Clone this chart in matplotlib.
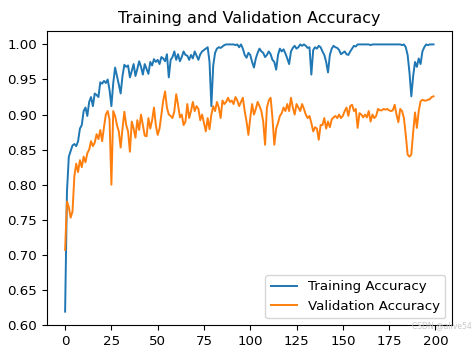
import matplotlib.pyplot as plt
import numpy as np

train_acc = [
    0.619, 0.790, 0.840, 0.848, 0.856, 0.858, 0.855, 0.862, 0.880, 0.885,
    0.905, 0.910, 0.898, 0.918, 0.925, 0.912, 0.930, 0.928, 0.925, 0.946,
    0.944, 0.948, 0.945, 0.950, 0.935, 0.912, 0.945, 0.967, 0.955, 0.943,
    0.930, 0.955, 0.971, 0.968, 0.970, 0.953, 0.962, 0.972, 0.955, 0.965,
    0.976, 0.968, 0.957, 0.972, 0.965, 0.958, 0.975, 0.970, 0.979, 0.975,
    0.978, 0.972, 0.982, 0.980, 0.976, 0.986, 0.953, 0.978, 0.982, 0.990,
    0.978, 0.986, 0.976, 0.982, 0.990, 0.985, 0.984, 0.978, 0.985, 0.980,
    0.990, 0.984, 0.978, 0.986, 0.990, 0.992, 0.994, 0.996, 0.975, 0.912,
    0.970, 0.988, 0.994, 0.996, 0.995, 0.997, 0.999, 1.000, 1.000, 1.000,
    1.000, 1.000, 0.999, 1.000, 0.996, 1.000, 0.994, 0.985, 0.981, 0.988,
    0.985, 0.975, 0.967, 0.980, 0.988, 0.994, 0.990, 0.988, 0.982, 0.985,
    0.990, 0.986, 0.978, 0.975, 0.964, 0.985, 0.994, 0.990, 0.993, 0.987,
    0.980, 0.972, 0.990, 0.995, 0.998, 0.994, 0.996, 1.000, 0.998, 1.000,
    0.998, 0.995, 0.996, 0.957, 0.992, 0.996, 0.994, 0.998, 0.996, 0.990,
    0.985, 0.975, 0.960, 0.985, 0.994, 0.998, 0.996, 0.995, 0.992, 0.986,
    0.988, 0.990, 0.986, 0.985, 0.990, 0.994, 0.998, 0.997, 1.000, 1.000,
    1.000, 1.000, 1.000, 1.000, 1.000, 0.999, 1.000, 1.000, 1.000, 1.000,
    1.000, 1.000, 1.000, 1.000, 1.000, 1.000, 1.000, 1.000, 1.000, 1.000,
    1.000, 1.000, 0.999, 1.000, 0.996, 0.985, 0.960, 0.926, 0.955, 0.975,
    0.968, 0.980, 0.972, 0.990, 0.996, 1.000, 0.999, 1.000, 1.000, 1.000,
]

val_acc = [
    0.707, 0.776, 0.768, 0.753, 0.762, 0.812, 0.830, 0.818, 0.835, 0.825,
    0.840, 0.832, 0.845, 0.850, 0.862, 0.855, 0.860, 0.872, 0.865, 0.878,
    0.862, 0.882, 0.900, 0.905, 0.893, 0.800, 0.905, 0.898, 0.885, 0.876,
    0.853, 0.880, 0.904, 0.885, 0.876, 0.847, 0.890, 0.880, 0.867, 0.892,
    0.878, 0.900, 0.885, 0.870, 0.869, 0.895, 0.880, 0.892, 0.910, 0.885,
    0.871, 0.880, 0.900, 0.920, 0.933, 0.910, 0.900, 0.898, 0.895, 0.905,
    0.929, 0.914, 0.896, 0.900, 0.885, 0.890, 0.915, 0.895, 0.905, 0.918,
    0.905, 0.912, 0.908, 0.892, 0.900, 0.888, 0.876, 0.895, 0.879, 0.900,
    0.912, 0.905, 0.918, 0.910, 0.895, 0.920, 0.915, 0.918, 0.924, 0.918,
    0.920, 0.915, 0.925, 0.920, 0.912, 0.918, 0.924, 0.905, 0.890, 0.871,
    0.895, 0.915, 0.900, 0.908, 0.918, 0.912, 0.905, 0.890, 0.857, 0.910,
    0.920, 0.924, 0.895, 0.857, 0.880, 0.888, 0.898, 0.902, 0.910, 0.905,
    0.915, 0.905, 0.924, 0.910, 0.900, 0.915, 0.910, 0.905, 0.915, 0.908,
    0.900, 0.895, 0.898, 0.888, 0.876, 0.882, 0.880, 0.864, 0.885, 0.885,
    0.895, 0.880, 0.890, 0.882, 0.893, 0.896, 0.898, 0.895, 0.900, 0.895,
    0.898, 0.905, 0.910, 0.898, 0.912, 0.914, 0.905, 0.908, 0.881, 0.902,
    0.900, 0.896, 0.900, 0.896, 0.905, 0.890, 0.900, 0.895, 0.898, 0.908,
    0.906, 0.906, 0.908, 0.907, 0.908, 0.906, 0.905, 0.906, 0.914, 0.900,
    0.889, 0.908, 0.905, 0.895, 0.871, 0.843, 0.840, 0.843, 0.875, 0.903,
    0.881, 0.905, 0.919, 0.921, 0.920, 0.920, 0.921, 0.922, 0.925, 0.926,
]

epochs = np.arange(len(train_acc))

plt.rcParams['font.size'] = 9.6

fig = plt.figure(figsize=(4.74, 3.55), dpi=100)
ax = fig.add_axes([0.0985, 0.0845, 0.855, 0.828])
ax.plot(epochs, train_acc, label='Training Accuracy', lw=1.4)
ax.plot(epochs, val_acc, label='Validation Accuracy', lw=1.4)
ax.legend(loc='lower right', fontsize=9.6)
ax.set_title('Training and Validation Accuracy', fontsize=11.5)

fig.text(0.995, 0.07, 'CSDN @alive54', fontsize=5.5, color='#c8c8c8',
         ha='right', va='bottom')

fig.savefig('out.png', dpi=100)
